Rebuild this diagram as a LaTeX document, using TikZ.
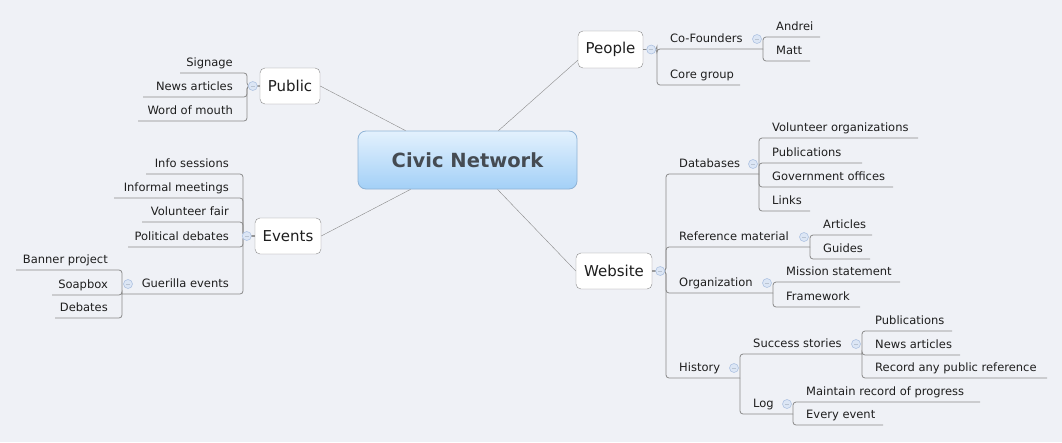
\documentclass[tikz,border=0pt]{standalone}
\usepackage{fontspec}
\setmainfont{DejaVu Sans}
\usetikzlibrary{calc}
\definecolor{bg}{HTML}{EFF1F6}
\definecolor{ln}{HTML}{8A8A8A}
\definecolor{tx}{HTML}{1E1E1E}
\definecolor{ctop}{HTML}{E3F1FD}
\definecolor{cbot}{HTML}{A3D0F7}
\definecolor{cbrd}{HTML}{8FB3D6}
\definecolor{ctx}{HTML}{454B52}
\definecolor{tgf}{HTML}{DCE6F5}
\definecolor{tgd}{HTML}{AFC3E2}
\tikzset{
 txt/.style={inner sep=0pt,font=\fontsize{11.5}{13}\selectfont,text=tx},
 topic/.style={draw=ln,fill=white,rounded corners=5pt,inner sep=0pt,font=\fontsize{15}{17}\selectfont,text=tx},
 conn/.style={draw=ln,line width=0.8pt,rounded corners=3pt},
 tog/.style={circle,draw=tgd,fill=tgf,minimum size=9pt,inner sep=0pt,line width=0.6pt}
}
\newcommand\RN[5]{\coordinate (#1-s) at (#2,#3);\coordinate (#1-e) at (#4,#3);
 \node[txt,anchor=base west] (#1) at ($(#2,#3)+(13,-7)$) {#5};}
\newcommand\LN[5]{\coordinate (#1-s) at (#2,#3);\coordinate (#1-e) at (#4,#3);
 \node[txt,anchor=base east] (#1) at ($(#2,#3)+(-14,-7)$) {#5};}
\newcommand\TG[1]{\node[tog] at (#1) {}; \draw[tgd!80!black!60,line width=0.6pt] ($(#1)+(-2.2,0)$) -- ($(#1)+(2.2,0)$);}
\begin{document}
\begin{tikzpicture}[x=1pt,y=-1pt]
\fill[bg] (0,0) rectangle (1062,442);
\useasboundingbox (0,0) rectangle (1062,442);
% central
\node[draw=cbrd,line width=0.8pt,rounded corners=8pt,top color=ctop,bottom color=cbot,minimum width=219pt,minimum height=58pt,font=\fontsize{19.5}{22}\selectfont\bfseries,text=ctx] (civic) at (467.5,160) {Civic Network};
\node[topic,minimum width=65pt,minimum height=37pt] (people) at (610.5,49.5) {People};
\node[topic,minimum width=60pt,minimum height=36pt] (public) at (290,86) {Public};
\node[topic,minimum width=66pt,minimum height=36pt] (events) at (288,236) {Events};
\node[topic,minimum width=76pt,minimum height=36pt] (website) at (614,271) {Website};
\draw[ln] ($(civic.north)+(31,0)$) -- ($(people.south west)+(0,-8)$);
\draw[ln] ($(civic.north)+(-62,0)$) -- (public.east);
\draw[ln] ($(civic.south)+(-57,0)$) -- (events.east);
\draw[ln] ($(civic.south)+(30,0)$) -- (website.west);
% People
\RN{cof}{657}{49}{763}{Co-Founders}
\RN{core}{657}{85}{740}{Core group}
\RN{andrei}{763}{37}{820}{Andrei}
\RN{matt}{763}{61}{810}{Matt}
\foreach \c in {cof,core} \draw[conn] (people.east) -- (\c-s |- people.east) -- (\c-s) -- (\c-e);
\foreach \c in {andrei,matt} \draw[conn] (cof-e) -- (\c-s) -- (\c-e);
% Website
\RN{db}{666}{174}{759}{Databases}
\RN{ref}{666}{247}{810}{Reference material}
\RN{org}{666}{293}{773}{Organization}
\RN{hist}{666}{378}{740}{History}
\foreach \c in {db,ref,org,hist} \draw[conn] (website.east) -- (\c-s |- website.east) -- (\c-s) -- (\c-e);
\RN{vo}{759}{138}{918}{Volunteer organizations}
\RN{pub}{759}{163}{862}{Publications}
\RN{gov}{759}{187}{893}{Government offices}
\RN{links}{759}{211}{810}{Links}
\foreach \c in {vo,pub,gov,links} \draw[conn] (db-e) -- (\c-s) -- (\c-e);
\RN{art}{810}{235}{872}{Articles}
\RN{gui}{810}{259}{870}{Guides}
\foreach \c in {art,gui} \draw[conn] (ref-e) -- (\c-s) -- (\c-e);
\RN{mis}{773}{282}{900}{Mission statement}
\RN{fw}{773}{307}{860}{Framework}
\foreach \c in {mis,fw} \draw[conn] (org-e) -- (\c-s) -- (\c-e);
\RN{succ}{740}{354}{862}{Success stories}
\RN{log}{740}{414}{793}{Log}
\foreach \c in {succ,log} \draw[conn] (hist-e) -- (\c-s) -- (\c-e);
\RN{spub}{862}{331}{952}{Publications}
\RN{snews}{862}{355}{960}{News articles}
\RN{srec}{862}{378}{1047}{Record any public reference}
\foreach \c in {spub,snews,srec} \draw[conn] (succ-e) -- (\c-s) -- (\c-e);
\RN{mrp}{793}{402}{980}{Maintain record of progress}
\RN{ev}{793}{425}{883}{Every event}
\foreach \c in {mrp,ev} \draw[conn] (log-e) -- (\c-s) -- (\c-e);
% Public
\LN{sig}{247}{73}{180}{Signage}
\LN{news}{247}{97}{143}{News articles}
\LN{wom}{247}{121}{138}{Word of mouth}
\foreach \c in {sig,news,wom} \draw[conn] (public.west) -- (\c-s |- public.west) -- (\c-s) -- (\c-e);
% Events
\LN{info}{243}{174}{146}{Info sessions}
\LN{inf}{243}{198}{114}{Informal meetings}
\LN{vf}{243}{222}{142}{Volunteer fair}
\LN{pd}{243}{247}{128}{Political debates}
\LN{gue}{243}{294}{122}{Guerilla events}
\foreach \c in {info,inf,vf,pd,gue} \draw[conn] (events.west) -- (\c-s |- events.west) -- (\c-s) -- (\c-e);
\LN{ban}{122}{270}{16}{Banner project}
\LN{soap}{122}{295}{52}{Soapbox}
\LN{deb}{122}{318}{55}{Debates}
\foreach \c in {ban,soap,deb} \draw[conn] (gue-e) -- (\c-s) -- (\c-e);
% toggles
\TG{$(people.east)+(8,0)$}
\TG{$(website.east)+(8,0)$}
\TG{$(public.west)+(-7,0)$}
\TG{$(events.west)+(-8,0)$}
\foreach \c in {cof,db,ref,org,hist,succ,log} {\TG{$(\c-e)+(-6,-10)$}}
\TG{$(gue-e)+(6,-10)$}
\end{tikzpicture}
\end{document}
